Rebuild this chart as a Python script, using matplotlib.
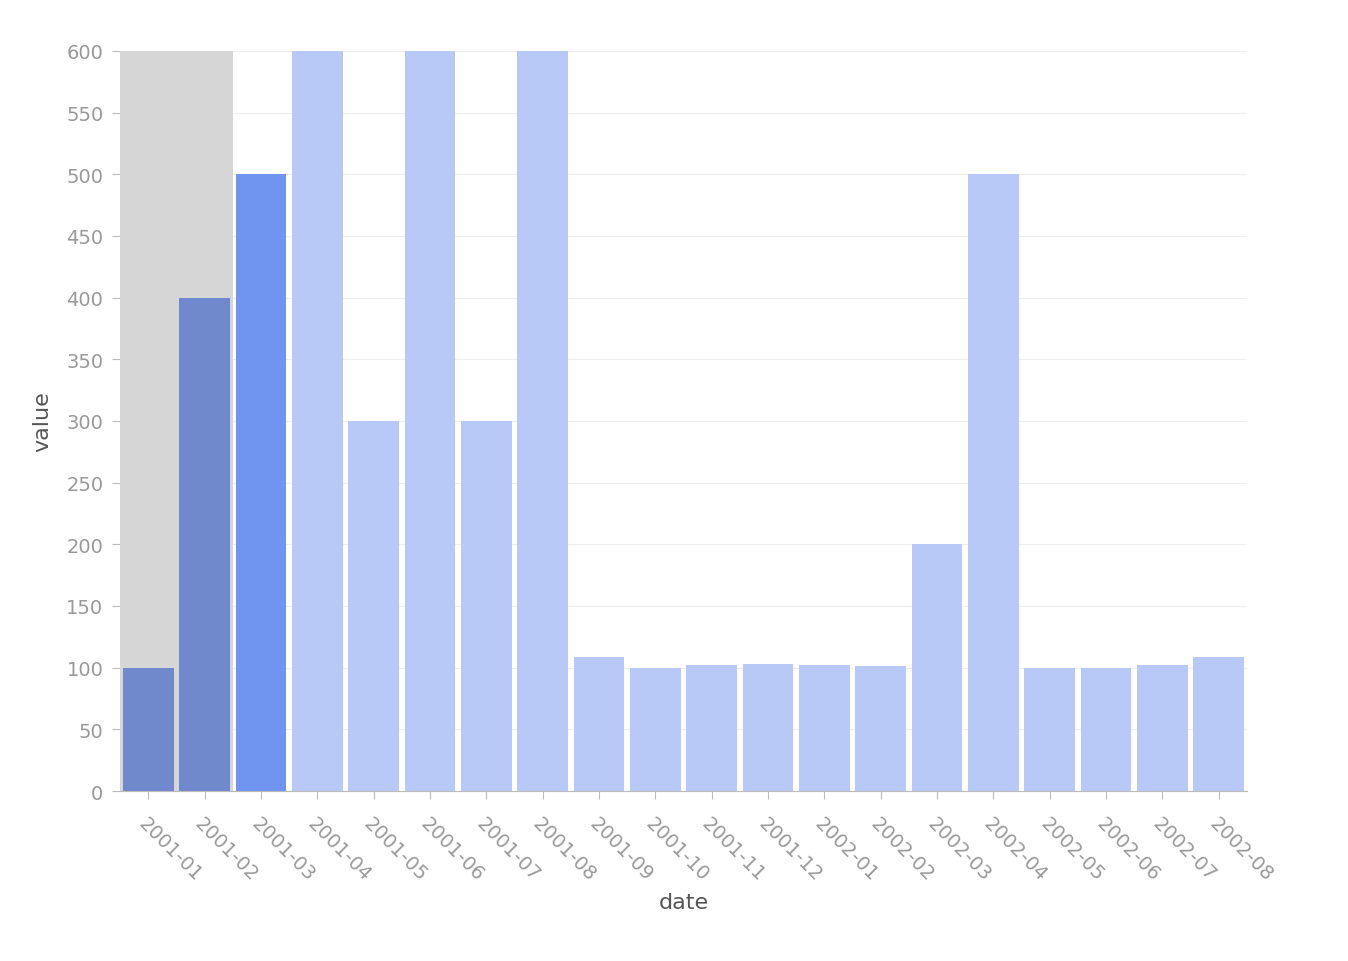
import matplotlib
matplotlib.use("Agg")
import matplotlib.pyplot as plt

dates = ["2001-01","2001-02","2001-03","2001-04","2001-05","2001-06","2001-07","2001-08","2001-09","2001-10",
         "2001-11","2001-12","2002-01","2002-02","2002-03","2002-04","2002-05","2002-06","2002-07","2002-08"]
values = [100,400,500,600,300,600,300,600,109,100,102,103,102,101,200,500,100,100,102,109]
colors = ["#7089cc","#7089cc","#6f95f0"] + ["#b8c9f7"]*17
highlight = [0, 1]

fig = plt.figure(figsize=(13.48, 9.62), dpi=100)
ax = fig.add_axes([120/1348, 1-792/962, (1247-120)/1348, (792-52)/962])
x = list(range(len(dates)))
for i in highlight:
    ax.bar(i, 600, width=1.0, color="#d6d6d6", zorder=1)
ax.bar(x, values, width=0.9, color=colors, zorder=2)
ax.set_xlim(-0.5, len(dates)-0.5)
ax.set_ylim(0, 600)
ax.set_yticks(range(0, 601, 50))
ax.grid(axis="y", color="#eeeeee", lw=0.8, zorder=0)
ax.set_axisbelow(True)
for s in ["top","right","left"]:
    ax.spines[s].set_visible(False)
ax.spines["bottom"].set_color("#bbbbbb")
ax.set_xticks(x)
ax.set_xticklabels(dates, rotation=-45, ha="left", rotation_mode="anchor", fontsize=14, color="#999999")
ax.tick_params(axis="x", length=6, color="#bbbbbb", pad=10)
ax.tick_params(axis="y", length=6, color="#bbbbbb", labelsize=14, labelcolor="#999999", pad=6)
ax.set_xlabel("date", fontsize=16, color="#555555", labelpad=6)
ax.set_ylabel("value", fontsize=16, color="#555555", labelpad=10)
fig.savefig("out.png", dpi=100)
